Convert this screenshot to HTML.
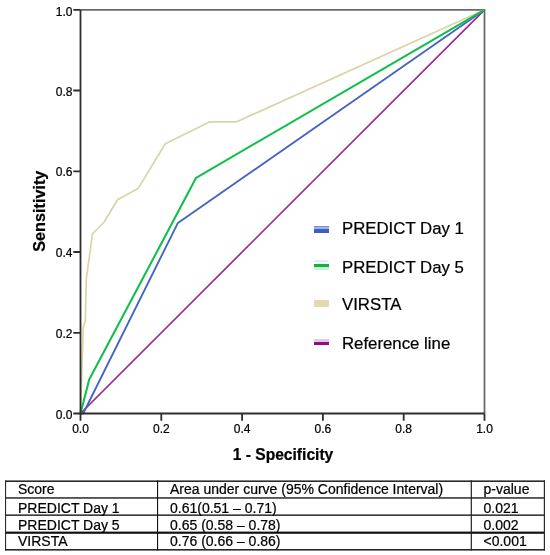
<!DOCTYPE html><html><head><meta charset="utf-8"><style>html,body{margin:0;padding:0;background:#fff;}svg{display:block}text{font-family:"Liberation Sans",Arial,sans-serif;fill:#000;stroke:#000;stroke-width:0.22px}</style></head><body>
<svg width="550" height="555" viewBox="0 0 550 555">
<rect width="550" height="555" fill="#fff"/>
<path d="M80.5 9.8H484.5V413.5" fill="none" stroke="#6a6a6a" stroke-width="1.8"/>
<polyline points="80.5,413.5 484.5,9.8" fill="none" stroke="#9c2a96" stroke-width="1.7" stroke-linejoin="round"/>
<polyline points="80.5,413.5 83.3,326.5 85.3,321.5 86.3,279.0 92.4,234.0 104.2,222.0 117.5,199.8 138.0,188.6 165.3,143.7 209.9,121.8 236.6,121.8 484.5,9.8" fill="none" stroke="#d9d5a6" stroke-width="1.75" stroke-linejoin="round"/>
<polyline points="80.5,413.5 83.2,413.5 177.9,222.9 484.5,9.8" fill="none" stroke="#4563c2" stroke-width="1.85" stroke-linejoin="round"/>
<polyline points="80.5,413.5 89.2,379.6 196.1,177.8 484.5,9.8" fill="none" stroke="#0fbf4b" stroke-width="2.05" stroke-linejoin="round"/>
<path d="M80.5 9.8V413.5H484.5" fill="none" stroke="#2e2e2e" stroke-width="1.8"/>
<path d="M73.3 413.5H80.5M80.5 413.5V420.7" stroke="#2e2e2e" stroke-width="1.8"/>
<text x="72.4" y="418.6" font-size="12" text-anchor="end">0.0</text>
<text x="80.5" y="433.2" font-size="12" text-anchor="middle">0.0</text>
<path d="M73.3 332.8H80.5M161.3 413.5V420.7" stroke="#2e2e2e" stroke-width="1.8"/>
<text x="72.4" y="337.6" font-size="12" text-anchor="end">0.2</text>
<text x="161.3" y="433.2" font-size="12" text-anchor="middle">0.2</text>
<path d="M73.3 252.0H80.5M242.1 413.5V420.7" stroke="#2e2e2e" stroke-width="1.8"/>
<text x="72.4" y="256.9" font-size="12" text-anchor="end">0.4</text>
<text x="242.1" y="433.2" font-size="12" text-anchor="middle">0.4</text>
<path d="M73.3 171.3H80.5M322.9 413.5V420.7" stroke="#2e2e2e" stroke-width="1.8"/>
<text x="72.4" y="176.2" font-size="12" text-anchor="end">0.6</text>
<text x="322.9" y="433.2" font-size="12" text-anchor="middle">0.6</text>
<path d="M73.3 90.5H80.5M403.7 413.5V420.7" stroke="#2e2e2e" stroke-width="1.8"/>
<text x="72.4" y="95.6" font-size="12" text-anchor="end">0.8</text>
<text x="403.7" y="433.2" font-size="12" text-anchor="middle">0.8</text>
<path d="M73.3 9.8H80.5M484.5 413.5V420.7" stroke="#2e2e2e" stroke-width="1.8"/>
<text x="72.4" y="15.6" font-size="12" text-anchor="end">1.0</text>
<text x="484.5" y="433.2" font-size="12" text-anchor="middle">1.0</text>
<text x="283" y="459.7" font-size="15.6" font-weight="bold" text-anchor="middle">1 - Specificity</text>
<text transform="translate(44.6 211.2) rotate(-90)" font-size="16.2" font-weight="bold" text-anchor="middle">Sensitivity</text>
<rect x="314" y="226" width="15" height="1" fill="#7a90d2"/>
<rect x="314" y="227" width="15" height="2" fill="#a4b3e4"/>
<rect x="314" y="229" width="15" height="4" fill="#3f5ebd"/>
<rect x="314" y="260" width="15" height="2" fill="#dff3e4"/>
<rect x="314" y="264" width="15" height="3" fill="#0bb540"/>
<rect x="314" y="267" width="15" height="3" fill="#cdeed8"/>
<rect x="314" y="300" width="15" height="7" fill="#e0dcb0"/>
<rect x="314" y="339" width="15" height="3" fill="#e8c6e6"/>
<rect x="314" y="342" width="15" height="3" fill="#8e0e84"/>
<text x="342" y="233.9" font-size="16.8">PREDICT Day 1</text>
<text x="342" y="272.5" font-size="16.8">PREDICT Day 5</text>
<text x="342" y="310.4" font-size="16.8">VIRSTA</text>
<text x="342" y="348.5" font-size="16.8">Reference line</text>
<rect x="5" y="480.4" width="540" height="1.6" fill="#2a2a2a"/>
<rect x="5" y="497.2" width="540" height="1.5" fill="#2a2a2a"/>
<rect x="5" y="514.4" width="540" height="1.5" fill="#2a2a2a"/>
<rect x="5" y="531.6" width="540" height="2.2" fill="#111"/>
<rect x="5" y="549" width="540" height="1.6" fill="#2a2a2a"/>
<rect x="5" y="480.4" width="1.1" height="70" fill="#2a2a2a"/>
<rect x="157" y="480.4" width="1.1" height="70" fill="#111"/>
<rect x="470.7" y="480.4" width="1.2" height="70" fill="#222"/>
<rect x="543.8" y="480.4" width="1.2" height="70" fill="#2a2a2a"/>
<text x="18" y="494.4" font-size="14">Score</text>
<text x="170" y="494.4" font-size="14">Area under curve (95% Confidence Interval)</text>
<text x="483.5" y="494.4" font-size="14">p-value</text>
<text x="18" y="512.5" font-size="14">PREDICT Day 1</text>
<text x="170" y="512.5" font-size="14">0.61(0.51 – 0.71)</text>
<text x="483.5" y="512.5" font-size="14">0.021</text>
<text x="18" y="529.5" font-size="14">PREDICT Day 5</text>
<text x="170" y="529.5" font-size="14">0.65 (0.58 – 0.78)</text>
<text x="483.5" y="529.5" font-size="14">0.002</text>
<text x="18" y="546.3" font-size="14">VIRSTA</text>
<text x="170" y="546.3" font-size="14">0.76 (0.66 – 0.86)</text>
<text x="483.5" y="546.3" font-size="14">&lt;0.001</text>
</svg></body></html>
